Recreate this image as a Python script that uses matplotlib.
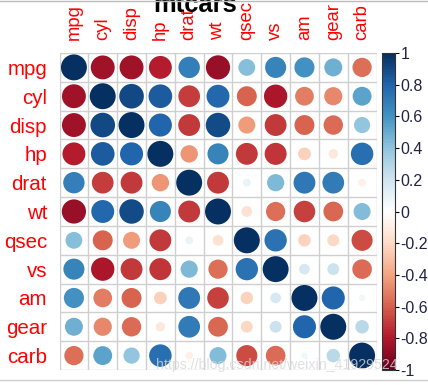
import numpy as np
import matplotlib.pyplot as plt
from matplotlib.colors import LinearSegmentedColormap, Normalize
from matplotlib.patches import Circle
from matplotlib.lines import Line2D
import matplotlib.cm as cm

plt.rcParams['font.family'] = ['Liberation Sans', 'DejaVu Sans']

# mtcars correlation matrix
labels = ["mpg", "cyl", "disp", "hp", "drat", "wt", "qsec", "vs", "am", "gear", "carb"]
mpg  = [1.00, -0.85, -0.85, -0.78, 0.68, -0.87, 0.42, 0.66, 0.60, 0.48, -0.55]
cyl  = [-0.85, 1.00, 0.90, 0.83, -0.70, 0.78, -0.59, -0.81, -0.52, -0.49, 0.53]
disp = [-0.85, 0.90, 1.00, 0.79, -0.71, 0.89, -0.43, -0.71, -0.59, -0.56, 0.39]
hp   = [-0.78, 0.83, 0.79, 1.00, -0.45, 0.66, -0.71, -0.72, -0.24, -0.13, 0.75]
drat = [0.68, -0.70, -0.71, -0.45, 1.00, -0.71, 0.09, 0.44, 0.71, 0.70, -0.09]
wt   = [-0.87, 0.78, 0.89, 0.66, -0.71, 1.00, -0.17, -0.55, -0.69, -0.58, 0.43]
qsec = [0.42, -0.59, -0.43, -0.71, 0.09, -0.17, 1.00, 0.74, -0.23, -0.21, -0.66]
vs   = [0.66, -0.81, -0.71, -0.72, 0.44, -0.55, 0.74, 1.00, 0.17, 0.21, -0.57]
am   = [0.60, -0.52, -0.59, -0.24, 0.71, -0.69, -0.23, 0.17, 1.00, 0.79, 0.06]
gear = [0.48, -0.49, -0.56, -0.13, 0.70, -0.58, -0.21, 0.21, 0.79, 1.00, 0.27]
carb = [-0.55, 0.53, 0.39, 0.75, -0.09, 0.43, -0.66, -0.57, 0.06, 0.27, 1.00]
corr = np.array([mpg, cyl, disp, hp, drat, wt, qsec, vs, am, gear, carb])

cbar_ticks = [1, 0.8, 0.6, 0.4, 0.2, 0, -0.2, -0.4, -0.6, -0.8, -1]
cbar_labels = ["1", "0.8", "0.6", "0.4", "0.2", "0", "-0.2", "-0.4", "-0.6", "-0.8", "-1"]

cmap = LinearSegmentedColormap.from_list("RdBu2", [
    "#67001F", "#B2182B", "#D6604D", "#F4A582", "#FDDBC7", "#FFFFFF",
    "#D1E5F0", "#92C5DE", "#4393C3", "#2166AC", "#053061"], N=200)
norm = Normalize(-1, 1)

W, H = 428, 385
fig = plt.figure(figsize=(W / 100, H / 100), dpi=100)
ax = fig.add_axes([59.5 / W, 15 / H, 317 / W, 317 / H])
n = len(labels)

for i in range(n):
    for j in range(n):
        r = corr[i, j]
        ax.add_patch(Circle((j + 0.5, i + 0.5), 0.45 * np.sqrt(abs(r)),
                            facecolor=cmap(norm(r)), edgecolor="none", zorder=2))
for k in range(n + 1):
    ax.axhline(k, color="#CFCFCF", lw=1, zorder=1)
    ax.axvline(k, color="#CFCFCF", lw=1, zorder=1)

ax.set_xlim(0, n)
ax.set_ylim(n, 0)
for s in ax.spines.values():
    s.set_visible(False)
ax.set_xticks(np.arange(n) + 0.5)
ax.set_yticks(np.arange(n) + 0.5)
ax.set_xticklabels(labels, rotation=90, color="red", fontsize=13.3)
ax.set_yticklabels(labels, color="red", fontsize=14.8)
ax.xaxis.tick_top()
ax.tick_params(length=0)
ax.tick_params(axis="x", pad=9)
ax.tick_params(axis="y", pad=9)

# colorbar
cax = fig.add_axes([382 / W, 15 / H, 13 / W, 317 / H])
cb = fig.colorbar(cm.ScalarMappable(norm=norm, cmap=cmap), cax=cax)
cb.set_ticks(cbar_ticks)
cb.set_ticklabels(cbar_labels)
cb.outline.set_edgecolor("#333333")
cax.tick_params(length=3, width=0.8, pad=1, labelsize=11.5, labelcolor="#222244")

fig.text(195 / W, 1 - 12 / H, "mtcars", fontsize=18.4, fontweight="bold",
         ha="center", va="baseline", zorder=0)
fig.text(277 / W, 1 - 365 / H, "https://blog.csdn.net/weixin_41929524",
         fontsize=10.2, color="#D8D8D8", alpha=0.8, ha="center", va="center")
fig.add_artist(Line2D([0, 1], [1 - 0.5 / H, 1 - 0.5 / H], color="#BBBBBB", lw=1))
fig.add_artist(Line2D([0, 1], [1 - 380 / H, 1 - 380 / H], color="#CCCCCC", lw=1))

fig.savefig("out.png", dpi=100)
